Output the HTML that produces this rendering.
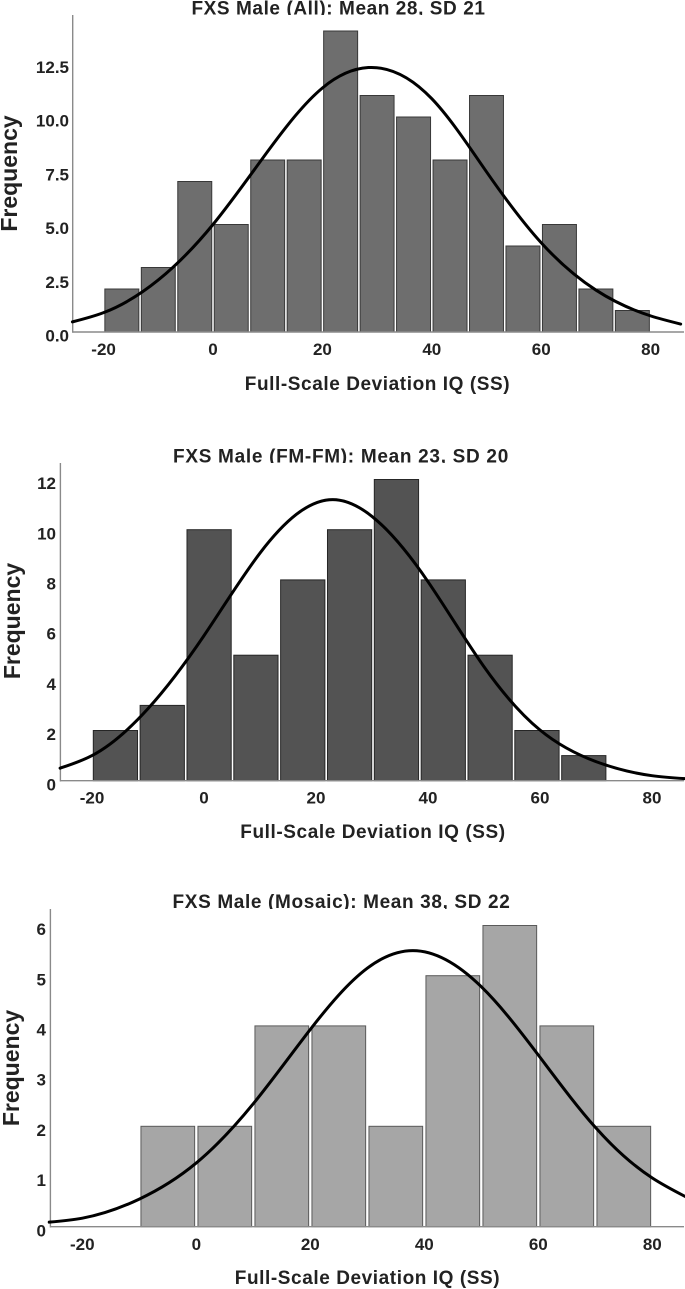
<!DOCTYPE html>
<html lang="en">
<head>
<meta charset="utf-8">
<title>FXS Male Full-Scale Deviation IQ Histograms</title>
<style>
  html, body { margin: 0; padding: 0; background: #fff; }
  body { width: 685px; height: 1289px; overflow: hidden; }
  svg { display: block; font-family: "Liberation Sans", Arial, sans-serif; font-weight: bold; }
  svg text { fill: #222; }
</style>
</head>
<body>
<svg id="figure" xmlns="http://www.w3.org/2000/svg" width="685" height="1289" viewBox="0 0 685 1289">
  <rect x="0" y="0" width="685" height="1289" fill="#ffffff"></rect>
</svg>
<script>
// ---- Panel 1: FXS Male (All) ----
const allBinEdges = [-20, -13.33, -6.67, 0, 6.67, 13.33, 20, 26.67, 33.33, 40, 46.67, 53.33, 60, 66.67, 73.33, 80];
const allCounts = [2, 3, 7, 5, 8, 8, 14, 11, 10, 8, 11, 4, 5, 2, 1];
const allCurveX = [-25.7, -20, -10, 0, 10, 20, 28.4, 40, 50, 60, 70, 80, 85.5];
const allCurveY = [0.47, 0.9, 2.42, 5.0, 8.4, 11.35, 12.3, 10.85, 7.45, 4.15, 1.95, 0.75, 0.37];
const allYTicks = [0, 2.5, 5, 7.5, 10, 12.5];
const allYTickLabels = ["0.0", "2.5", "5.0", "7.5", "10.0", "12.5"];

// ---- Panel 2: FXS Male (FM-FM) ----
const fmBinEdges = [-20, -11.64, -3.27, 5.09, 13.45, 21.82, 30.18, 38.55, 46.91, 55.27, 63.64, 72];
const fmCounts = [2, 3, 10, 5, 8, 10, 12, 8, 5, 2, 1];
const fmCurveX = [-25.7, -20, -10, 0, 10, 23, 30, 40, 50, 60, 70, 80, 85.9];
const fmCurveY = [0.5, 1.0, 2.87, 5.78, 9.07, 11.2, 10.53, 7.93, 4.54, 2.02, 0.76, 0.2, 0.08];
const fmYTicks = [0, 2, 4, 6, 8, 10, 12];
const fmYTickLabels = ["0", "2", "4", "6", "8", "10", "12"];

// ---- Panel 3: FXS Male (Mosaic) ----
const mosaicBinEdges = [-10, 0, 10, 20, 30, 40, 50, 60, 70, 80];
const mosaicCounts = [2, 2, 4, 4, 2, 5, 6, 4, 2];
const mosaicCurveX = [-25.8, -20, -10, 0, 10, 20, 30, 38, 50, 60, 70, 80, 85.8];
const mosaicCurveY = [0.09, 0.17, 0.55, 1.27, 2.45, 3.93, 5.15, 5.5, 4.78, 3.42, 1.98, 0.97, 0.6];
const mosaicYTicks = [0, 1, 2, 3, 4, 5, 6];
const mosaicYTickLabels = ["0", "1", "2", "3", "4", "5", "6"];

// Shared x axis ticks
const xTicks = [-20, 0, 20, 40, 60, 80];

const NS = "http://www.w3.org/2000/svg";
const figure = document.getElementById("figure");

function make(parent, tag, attrs, text) {
  const el = document.createElementNS(NS, tag);
  for (const key in attrs) el.setAttribute(key, attrs[key]);
  if (text !== undefined) el.textContent = text;
  parent.appendChild(el);
  return el;
}

// C2-smooth natural cubic spline through the read-off curve points, as Bezier segments
function smoothPath(pts) {
  const n = pts.length;
  const h = [];
  for (let i = 0; i < n - 1; i++) h.push(pts[i + 1][0] - pts[i][0]);
  const a = new Array(n).fill(0);
  const b = new Array(n).fill(1);
  const c = new Array(n).fill(0);
  const r = new Array(n).fill(0);
  for (let i = 1; i < n - 1; i++) {
    a[i] = h[i - 1];
    b[i] = 2 * (h[i - 1] + h[i]);
    c[i] = h[i];
    r[i] = 6 * ((pts[i + 1][1] - pts[i][1]) / h[i] - (pts[i][1] - pts[i - 1][1]) / h[i - 1]);
  }
  for (let i = 1; i < n; i++) {
    const m = a[i] / b[i - 1];
    b[i] -= m * c[i - 1];
    r[i] -= m * r[i - 1];
  }
  const s = new Array(n).fill(0);
  s[n - 1] = r[n - 1] / b[n - 1];
  for (let i = n - 2; i >= 0; i--) s[i] = (r[i] - c[i] * s[i + 1]) / b[i];

  let d = "M" + pts[0][0].toFixed(2) + " " + pts[0][1].toFixed(2);
  for (let i = 0; i < n - 1; i++) {
    const slope = (pts[i + 1][1] - pts[i][1]) / h[i];
    const m0 = slope - h[i] * (2 * s[i] + s[i + 1]) / 6;
    const m1 = slope + h[i] * (s[i] + 2 * s[i + 1]) / 6;
    const c1x = pts[i][0] + h[i] / 3;
    const c1y = pts[i][1] + m0 * h[i] / 3;
    const c2x = pts[i + 1][0] - h[i] / 3;
    const c2y = pts[i + 1][1] - m1 * h[i] / 3;
    d += "C" + c1x.toFixed(2) + " " + c1y.toFixed(2) + " " + c2x.toFixed(2) + " " + c2y.toFixed(2) + " " + pts[i + 1][0].toFixed(2) + " " + pts[i + 1][1].toFixed(2);
  }
  return d;
}

function drawPanel(cfg) {
  const xScale = function (v) { return cfg.x0 + cfg.xUnit * v; };
  const yScale = function (v) { return cfg.base - cfg.yUnit * v; };

  const group = make(figure, "g", {});
  
  

  // Title (the plot area's white backdrop clips its lower edge as in the source)
  const title = make(group, "text", { x: cfg.titleX, y: cfg.titleY, "text-anchor": "middle", "font-size": 19, "letter-spacing": cfg.titleSpacing }, cfg.title);
  
  

  const plot = make(group, "rect", { x: cfg.axisX, y: cfg.axisTop, width: 685 - cfg.axisX, height: cfg.base - cfg.axisTop, fill: "#ffffff" });
  
  

  // Bars
  cfg.counts.forEach(function (count, i) {
    const left = xScale(cfg.edges[i]) + cfg.barInset;
    const right = xScale(cfg.edges[i + 1]) - cfg.barInset;
    const bar = make(group, "rect", {
      x: left.toFixed(2),
      y: yScale(count).toFixed(2),
      width: (right - left).toFixed(2),
      height: (cfg.base - yScale(count)).toFixed(2),
      fill: cfg.fill,
      stroke: cfg.barStroke,
      "stroke-width": 1
    });
    
    
  });

  // Axes
  const yAxis = make(group, "line", { x1: cfg.axisX, x2: cfg.axisX, y1: cfg.axisTop, y2: cfg.base + 0.75, stroke: "#8a8a8a", "stroke-width": 1.4 });
  
  

  const xAxis = make(group, "line", { x1: cfg.axisX, x2: 684, y1: cfg.base, y2: cfg.base, stroke: "#8a8a8a", "stroke-width": 1.4 });
  
  

  // Normal curve
  const curvePts = cfg.curveX.map(function (v, i) { return [xScale(v), yScale(cfg.curveY[i])]; });
  const curve = make(group, "path", { d: smoothPath(curvePts), fill: "none", stroke: "#000000", "stroke-width": 3, "stroke-linecap": "round" });
  
  

  // Y tick labels
  cfg.yTicks.forEach(function (tick, i) {
    const label = make(group, "text", { x: cfg.yLabelX, y: (yScale(tick) + 9.6).toFixed(2), "text-anchor": "end", "font-size": 17 }, cfg.yTickLabels[i]);
    
    
  });

  // X tick labels
  xTicks.forEach(function (tick) {
    const label = make(group, "text", { x: xScale(tick).toFixed(2), y: cfg.xLabelY, "text-anchor": "middle", "font-size": 17 }, String(tick));
    
    
  });

  // Axis titles
  const xTitle = make(group, "text", { x: cfg.xTitleX, y: cfg.xTitleY, "text-anchor": "middle", "font-size": 19, "letter-spacing": 0.58 }, "Full-Scale Deviation IQ (SS)");
  
  

  const yTitle = make(group, "text", {
    transform: "translate(" + cfg.yTitleX + " " + cfg.yTitleY + ") rotate(-90)",
    "text-anchor": "middle",
    "font-size": 23
  }, "Frequency");
  
  
}

drawPanel({
  key: "all", title: "FXS Male (All): Mean 28, SD 21",
  edges: allBinEdges, counts: allCounts, curveX: allCurveX, curveY: allCurveY,
  yTicks: allYTicks, yTickLabels: allYTickLabels,
  x0: 213, xUnit: 5.47, base: 332, yUnit: 21.5, axisX: 72.7, axisTop: 15,
  fill: "#6e6e6e", barStroke: "#383838", barInset: 1.25,
  titleX: 338.5, titleY: 14.5, titleSpacing: 0.58,
  yLabelX: 69, xLabelY: 355, xTitleX: 377.5, xTitleY: 390,
  yTitleX: 17, yTitleY: 173.5
});

drawPanel({
  key: "fm-fm", title: "FXS Male (FM-FM): Mean 23, SD 20",
  edges: fmBinEdges, counts: fmCounts, curveX: fmCurveX, curveY: fmCurveY,
  yTicks: fmYTicks, yTickLabels: fmYTickLabels,
  x0: 204, xUnit: 5.6, base: 780.7, yUnit: 25.1, axisX: 60.4, axisTop: 463,
  fill: "#535353", barStroke: "#262626", barInset: 1.3,
  titleX: 341, titleY: 462.5, titleSpacing: 0.7,
  yLabelX: 56, xLabelY: 803.5, xTitleX: 373, xTitleY: 838,
  yTitleX: 20, yTitleY: 621
});

drawPanel({
  key: "mosaic", title: "FXS Male (Mosaic): Mean 38, SD 22",
  edges: mosaicBinEdges, counts: mosaicCounts, curveX: mosaicCurveX, curveY: mosaicCurveY,
  yTicks: mosaicYTicks, yTickLabels: mosaicYTickLabels,
  x0: 196.3, xUnit: 5.7, base: 1226.7, yUnit: 50.2, axisX: 50.4, axisTop: 909,
  fill: "#a6a6a6", barStroke: "#5a5a5a", barInset: 1.65,
  titleX: 341.5, titleY: 908, titleSpacing: 0.64,
  yLabelX: 46, xLabelY: 1250, xTitleX: 367.5, xTitleY: 1284,
  yTitleX: 19, yTitleY: 1068
});
</script>
</body>
</html>
